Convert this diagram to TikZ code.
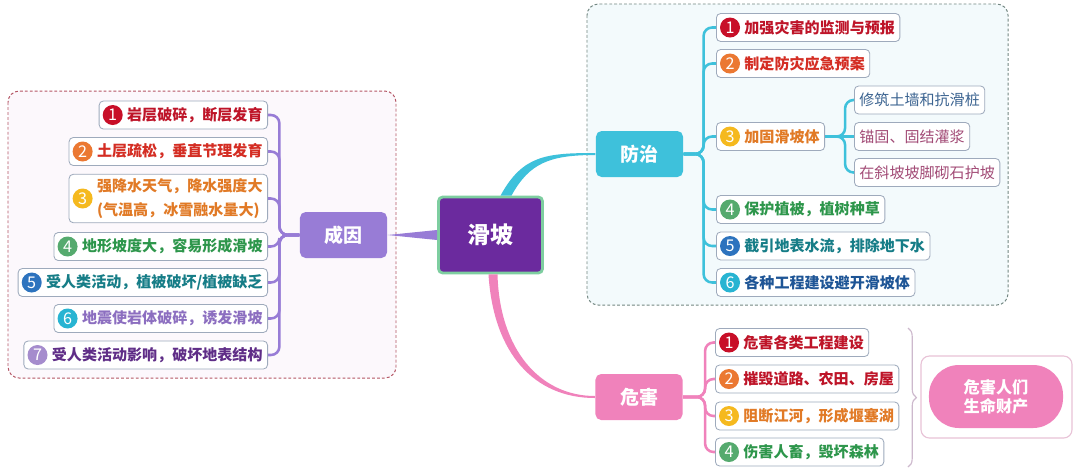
\documentclass[tikz,border=0pt]{standalone}
\usepackage{fontspec}
\setmainfont{Noto Sans CJK SC}
\usepackage{tikz}
\usetikzlibrary{positioning,calc,decorations.pathreplacing}
\definecolor{colorwhite}        {RGB}{255,255,255}
\definecolor{colorslide}        {RGB}{107, 42,158}
\definecolor{colorslideedge}    {RGB}{126,206,160}
\definecolor{colorcause}        {RGB}{152,124,214}
\definecolor{colorprevent}      {RGB}{ 62,193,219}
\definecolor{colorharm}         {RGB}{240,130,187}
\definecolor{colorcauseframe}   {RGB}{180, 85,100}
\definecolor{colorcausefill}    {RGB}{252,248,252}
\definecolor{colorpreventframe} {RGB}{115,135,130}
\definecolor{colorpreventfill}  {RGB}{243,250,252}
\definecolor{colorborder}       {RGB}{158,170,188}
\definecolor{colorbraceline}    {RGB}{205,185,205}
\definecolor{colorpillframe}    {RGB}{232,195,215}
\definecolor{colorone}          {RGB}{200, 15, 40}
\definecolor{colortwo}          {RGB}{235,120, 50}
\definecolor{colorthree}        {RGB}{245,185, 30}
\definecolor{colorfour}         {RGB}{ 85,170,110}
\definecolor{colorfive}         {RGB}{ 45,115,190}
\definecolor{colorsix}          {RGB}{ 40,180,210}
\definecolor{colorseven}        {RGB}{165,140,205}
\definecolor{colortextred}      {RGB}{190, 20, 40}
\definecolor{colortextorangered}{RGB}{212, 45, 35}
\definecolor{colortextorange}   {RGB}{225,122, 38}
\definecolor{colortextgreen}    {RGB}{ 45,150, 75}
\definecolor{colortextteal}     {RGB}{ 22,125,135}
\definecolor{colortextlilac}    {RGB}{140,110,192}
\definecolor{colortextpurple}   {RGB}{ 95, 45,135}
\definecolor{colortextblue}     {RGB}{ 30, 85,150}
\definecolor{colortextsteel}    {RGB}{ 60,100,145}
\definecolor{colortextmauve}    {RGB}{162, 75,118}
\newcommand{\pad}{\hspace*{0.575cm}}

\begin{document}
\begin{tikzpicture}[
    x=0.025cm, y=-0.025cm, thick,
    slidebox/.style={draw=colorslideedge,line width=2pt,fill=colorslide,text=colorwhite,rounded corners=3pt,minimum width=2.6cm,minimum height=1.9cm,font={\fontsize{16.4}{20}\selectfont\bfseries}},
    topic/.style={fill=#1,text=colorwhite,rounded corners=4pt,minimum width=2.175cm,minimum height=1.15cm,font={\fontsize{13.5}{16}\selectfont\bfseries}},
    numdot/.style={circle,fill=#1,text=colorwhite,inner sep=0pt,minimum size=0.5cm,font={\fontsize{11.5}{11.5}\selectfont}},
    entry/.style n args={3}{draw=colorborder,fill=colorwhite,line width=0.6pt,rounded corners=3pt,minimum height=0.7cm,inner xsep=0.125cm,inner ysep=3pt,align=left,text=#3,font={\fontsize{10.7}{17}\selectfont\bfseries},label={[numdot=#2,anchor=center,xshift=0.35cm]west:#1}},
    subentry/.style={draw=colorborder,fill=colorwhite,line width=0.6pt,rounded corners=3pt,minimum height=0.7cm,inner xsep=0.125cm,text=#1,font={\fontsize{10.7}{13}\selectfont}},
    causelink/.style={colorcause,line width=1.8pt,rounded corners=6pt},
    preventlink/.style={colorprevent,line width=1.8pt,rounded corners=6pt},
    harmlink/.style={colorharm,line width=1.8pt,rounded corners=6pt},
    causeframe/.style={draw=colorcauseframe,fill=colorcausefill,line width=0.7pt,dash pattern=on 2pt off 1.5pt,rounded corners=8pt},
    preventframe/.style={draw=colorpreventframe,fill=colorpreventfill,line width=0.7pt,dash pattern=on 2pt off 1.5pt,rounded corners=8pt},
    harmbrace/.style={colorbraceline,line width=0.8pt,decorate,decoration={brace,amplitude=6pt}},
    pillframe/.style={draw=colorpillframe,fill=colorwhite,line width=0.8pt,rounded corners=6pt,minimum width=3.775cm,minimum height=2.05cm},
    pill/.style={fill=colorharm,text=colorwhite,rounded corners=0.75cm,minimum width=3.35cm,minimum height=1.575cm,align=center,font={\fontsize{11.5}{13.5}\selectfont\bfseries}},
]

    % Page
    \useasboundingbox (0,0) rectangle (1080,470);
    \fill[colorwhite] (0,0) rectangle (1080,470);

    % Frames
    \draw[causeframe] (8,91) rectangle (396,378);
    \draw[preventframe] (587,4) rectangle (1008,305);

    % Center
    \node[slidebox] (slide) at (490.5,235) {滑坡};

    % Causes
    \node[topic=colorcause] (cause) at (343.5,235) {成因};
    \node[entry={1}{colorone}{colortextred},anchor=east] (c1) at (268,115) {\pad 岩层破碎，断层发育};
    \node[entry={2}{colortwo}{colortextorangered},anchor=east] (c2) at (268,151.5) {\pad 土层疏松，垂直节理发育};
    \node[entry={3}{colorthree}{colortextorange},anchor=east] (c3) at (268,198.5) {\pad 强降水天气，降水强度大\\\pad (气温高，冰雪融水量大)};
    \node[entry={4}{colorfour}{colortextgreen},anchor=east] (c4) at (268,246.5) {\pad 地形坡度大，容易形成滑坡};
    \node[entry={5}{colorfive}{colortextteal},anchor=east] (c5) at (268,282.5) {\pad 受人类活动，植被破坏/植被缺乏};
    \node[entry={6}{colorsix}{colortextlilac},anchor=east] (c6) at (268,318.5) {\pad 地震使岩体破碎，诱发滑坡};
    \node[entry={7}{colorseven}{colortextpurple},anchor=east] (c7) at (268,355) {\pad 受人类活动影响，破坏地表结构};

    % Prevention
    \node[topic=colorprevent] (prevent) at (639.5,154) {防治};
    \node[entry={1}{colorone}{colortextred},anchor=west] (p1) at (716,27.5) {\pad 加强灾害的监测与预报};
    \node[entry={2}{colortwo}{colortextorangered},anchor=west] (p2) at (716,63.5) {\pad 制定防灾应急预案};
    \node[entry={3}{colorthree}{colortextorange},anchor=west] (p3) at (716,136.5) {\pad 加固滑坡体};
    \node[subentry=colortextsteel,anchor=west] (pa) at (854,100) {修筑土墙和抗滑桩};
    \node[subentry=colortextmauve,anchor=west] (pb) at (854,136.5) {锚固、固结灌浆};
    \node[subentry=colortextmauve,anchor=west] (pc) at (854,172.5) {在斜坡坡脚砌石护坡};
    \node[entry={4}{colorfour}{colortextgreen},anchor=west] (p4) at (716,209.5) {\pad 保护植被，植树种草};
    \node[entry={5}{colorfive}{colortextteal},anchor=west] (p5) at (716,246) {\pad 截引地表水流，排除地下水};
    \node[entry={6}{colorsix}{colortextblue},anchor=west] (p6) at (716,282.5) {\pad 各种工程建设避开滑坡体};

    % Harm
    \node[topic=colorharm] (harm) at (639,397) {危害};
    \node[entry={1}{colorone}{colortextred},anchor=west] (h1) at (715,342.5) {\pad 危害各类工程建设};
    \node[entry={2}{colortwo}{colortextred},anchor=west] (h2) at (715,379) {\pad 摧毁道路、农田、房屋};
    \node[entry={3}{colorthree}{colortextorange},anchor=west] (h3) at (715,416) {\pad 阻断江河，形成堰塞湖};
    \node[entry={4}{colorfour}{colortextgreen},anchor=west] (h4) at (715,452) {\pad 伤害人畜，毁坏森林};
    \node[pillframe] (harmframe) at (996.5,397) {};
    \node[pill] (harmall) at (996,396.5) {危害人们\\生命财产};
    \coordinate (bracetop) at (908,328);
    \coordinate (bracebot) at (908,467);

    % Main branches
    \fill[colorcause] ($(slide.west)+(0,-5)$) -- (cause.east) -- ($(slide.west)+(0,5)$) -- cycle; % slide to causes
    \fill[colorprevent] ($(slide.north)+(10,0)$) .. controls +(22,-40) and +(-50,0) .. ($(prevent.west)+(0,-1)$) -- ($(prevent.west)+(0,1)$) .. controls +(-45,0) and +(18,-33) .. ($(slide.north)+(21,0)$) -- cycle; % slide to prevention
    \fill[colorharm] ($(slide.south)+(-2,0)$) .. controls +(5,80) and +(-60,0) .. ($(harm.west)+(0,1)$) -- ($(harm.west)+(0,-1)$) .. controls +(-55,0) and +(2,75) .. ($(slide.south)+(7,0)$) -- cycle; % slide to harm

    % Causes branches
    \draw[causelink] (cause.west) -- ++(-20,0) |- (c1.east);
    \draw[causelink] (cause.west) -- ++(-20,0) |- (c2.east);
    \draw[causelink] (cause.west) -- ++(-20,0) |- (c3.east);
    \draw[causelink] (cause.west) -- ++(-20,0) |- (c4.east);
    \draw[causelink] (cause.west) -- ++(-20,0) |- (c5.east);
    \draw[causelink] (cause.west) -- ++(-20,0) |- (c6.east);
    \draw[causelink] (cause.west) -- ++(-20,0) |- (c7.east);

    % Prevention branches
    \draw[preventlink] (prevent.east) -- ++(20,0) |- (p1.west);
    \draw[preventlink] (prevent.east) -- ++(20,0) |- (p2.west);
    \draw[preventlink] (prevent.east) -- ++(20,0) |- (p3.west);
    \draw[preventlink] (prevent.east) -- ++(20,0) |- (p4.west);
    \draw[preventlink] (prevent.east) -- ++(20,0) |- (p5.west);
    \draw[preventlink] (prevent.east) -- ++(20,0) |- (p6.west);
    \draw[preventlink] (p3.east) -- ++(20,0) |- (pa.west);
    \draw[preventlink] (p3.east) -- (pb.west);
    \draw[preventlink] (p3.east) -- ++(20,0) |- (pc.west);

    % Harm branches
    \draw[harmlink] (harm.east) -- ++(22,0) |- (h1.west);
    \draw[harmlink] (harm.east) -- ++(22,0) |- (h2.west);
    \draw[harmlink] (harm.east) -- ++(22,0) |- (h3.west);
    \draw[harmlink] (harm.east) -- ++(22,0) |- (h4.west);
    \draw[harmbrace] (bracetop) -- (bracebot);

\end{tikzpicture}
\end{document}
